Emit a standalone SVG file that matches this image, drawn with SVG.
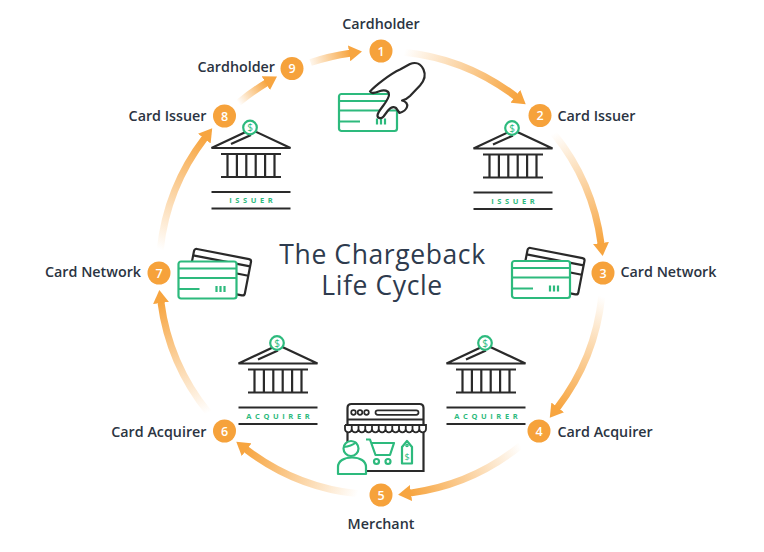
<svg xmlns="http://www.w3.org/2000/svg" xmlns:xlink="http://www.w3.org/1999/xlink" width="764" height="552" viewBox="0 0 764 552">
<style>
.lbl{font-family:"Open Sans","Liberation Sans",sans-serif;font-weight:600;font-size:14.3px;fill:#2B3442}
.num{font-family:"Open Sans","Liberation Sans",sans-serif;font-weight:600;font-size:12.5px;fill:#fff;text-anchor:middle}
.badge{fill:#F6A23B}
.title{font-family:"Open Sans","Liberation Sans",sans-serif;font-weight:400;font-size:26.5px;letter-spacing:0.6px;fill:#2E3B4E;text-anchor:middle}
.ln{fill:none;stroke:#2A2A2A;stroke-width:2.2}
.lnw{fill:#fff;stroke:#2A2A2A;stroke-width:2.2;stroke-linejoin:round}
.g{fill:none;stroke:#2DBA7D;stroke-width:2.2}
.gw{fill:#fff;stroke:#2DBA7D;stroke-width:2.2;stroke-linejoin:round}
.gt{font-family:"Open Sans","Liberation Sans",sans-serif;font-weight:700;font-size:7.5px;fill:#2DBA7D;text-anchor:middle;letter-spacing:3.6px}
.dol{font-family:"Open Sans","Liberation Sans",sans-serif;font-weight:400;font-size:10px;fill:#2DBA7D;text-anchor:middle}
.arc{fill:none;stroke-width:7;marker-end:url(#ah)}
</style>
<defs>
<marker id="ah" markerUnits="userSpaceOnUse" markerWidth="16" markerHeight="16" viewBox="0 0 16 16" refX="1" refY="8" orient="auto">
<path d="M0,0 L13,8 L0,16 Z" fill="#F7A540"/>
</marker>
<linearGradient id="gA" gradientUnits="userSpaceOnUse" x1="404.2" y1="52.2" x2="516.2" y2="96.9"><stop offset="0" stop-color="#F7A540" stop-opacity="0"/><stop offset="1" stop-color="#F7A540"/></linearGradient>
<linearGradient id="gB" gradientUnits="userSpaceOnUse" x1="553.5" y1="133.3" x2="601.1" y2="244"><stop offset="0" stop-color="#F7A540" stop-opacity="0"/><stop offset="1" stop-color="#F7A540"/></linearGradient>
<linearGradient id="gC" gradientUnits="userSpaceOnUse" x1="601.8" y1="296.2" x2="557.1" y2="408.2"><stop offset="0" stop-color="#F7A540" stop-opacity="0"/><stop offset="1" stop-color="#F7A540"/></linearGradient>
<linearGradient id="gD" gradientUnits="userSpaceOnUse" x1="520.7" y1="445.5" x2="410" y2="493.1"><stop offset="0" stop-color="#F7A540" stop-opacity="0"/><stop offset="1" stop-color="#F7A540"/></linearGradient>
<linearGradient id="gE" gradientUnits="userSpaceOnUse" x1="357.8" y1="493.8" x2="245.8" y2="449.1"><stop offset="0" stop-color="#F7A540" stop-opacity="0"/><stop offset="1" stop-color="#F7A540"/></linearGradient>
<linearGradient id="gF" gradientUnits="userSpaceOnUse" x1="208.5" y1="412.7" x2="160.9" y2="302"><stop offset="0" stop-color="#F7A540" stop-opacity="0"/><stop offset="1" stop-color="#F7A540"/></linearGradient>
<linearGradient id="gG" gradientUnits="userSpaceOnUse" x1="160.2" y1="249.8" x2="204.9" y2="137.8"><stop offset="0" stop-color="#F7A540" stop-opacity="0"/><stop offset="1" stop-color="#F7A540"/></linearGradient>
<linearGradient id="gH" gradientUnits="userSpaceOnUse" x1="238.3" y1="102.9" x2="266.7" y2="82.7"><stop offset="0" stop-color="#F7A540" stop-opacity="0"/><stop offset="1" stop-color="#F7A540"/></linearGradient>
<linearGradient id="gI" gradientUnits="userSpaceOnUse" x1="310.6" y1="62.5" x2="350.1" y2="53.2"><stop offset="0" stop-color="#F7A540" stop-opacity="0.1"/><stop offset="1" stop-color="#F7A540"/></linearGradient>
<g id="bank">
<path class="ln" d="M-38.5,20.5 L1,2 L40.5,20.5 Z"/>
<path class="ln" d="M-19,16.5 L1,7.5"/>
<path class="ln" d="M-29,26.5 H31 M-29,49.5 H31 M-22.5,26.5 V49.5 M-13.1,26.5 V49.5 M-3.7,26.5 V49.5 M5.7,26.5 V49.5 M15.1,26.5 V49.5 M24.5,26.5 V49.5 M-38.5,64.5 H40.5 M-38.5,81 H40.5"/>
<circle r="6.8" class="gw"/>
<text class="dol" y="3.6">$</text>
</g>
<g id="cardF">
<rect x="0" y="0" width="58" height="37" rx="2.5" class="gw"/>
<path class="g" d="M0,7 H58 M0,16.5 H58 M0,27.5 H21 M38,24.5 V30.5 M42,24.5 V30.5 M46,24.5 V30.5"/>
</g>
<g id="cardB">
<rect x="0" y="0" width="58" height="37" rx="2.5" class="lnw"/>
<path class="ln" d="M0,7 H58 M0,16.5 H58"/>
</g>
</defs>
<rect width="764" height="552" fill="#fff"/>

<g id="connectors">
<path class="arc" stroke="url(#gA)" d="M404.2,52.2 A222,222 0 0 1 516.2,96.9"/>
<path class="arc" stroke="url(#gB)" d="M553.5,133.3 A222,222 0 0 1 601.1,244"/>
<path class="arc" stroke="url(#gC)" d="M601.8,296.2 A222,222 0 0 1 557.1,408.2"/>
<path class="arc" stroke="url(#gD)" d="M520.7,445.5 A222,222 0 0 1 410,493.1"/>
<path class="arc" stroke="url(#gE)" d="M357.8,493.8 A222,222 0 0 1 245.8,449.1"/>
<path class="arc" stroke="url(#gF)" d="M208.5,412.7 A222,222 0 0 1 160.9,302"/>
<path class="arc" stroke="url(#gG)" d="M160.2,249.8 A222,222 0 0 1 204.9,137.8"/>
<path class="arc" stroke="url(#gH)" d="M238.3,102.9 A222,222 0 0 1 266.7,82.7"/>
<path class="arc" stroke="url(#gI)" d="M310.6,62.5 A222,222 0 0 1 350.1,53.2"/>
</g>

<g id="title">
<text class="title" x="382.5" y="264">The Chargeback</text>
<text class="title" x="382" y="295">Life Cycle</text>
</g>

<g id="step-1"><circle class="badge" cx="381" cy="51" r="11.5"/><text class="num" x="381" y="55.5">1</text><text class="lbl" x="381" y="28.5" text-anchor="middle">Cardholder</text></g>
<g id="step-2"><circle class="badge" cx="540" cy="115.5" r="11.5"/><text class="num" x="540" y="120">2</text><text class="lbl" x="557.5" y="120.5">Card Issuer</text></g>
<g id="step-3"><circle class="badge" cx="603" cy="273" r="11.5"/><text class="num" x="603" y="277.5">3</text><text class="lbl" x="620.5" y="277">Card Network</text></g>
<g id="step-4"><circle class="badge" cx="539" cy="431" r="11.5"/><text class="num" x="539" y="435.5">4</text><text class="lbl" x="557.5" y="436.5">Card Acquirer</text></g>
<g id="step-5"><circle class="badge" cx="381" cy="495" r="11.5"/><text class="num" x="381" y="499.5">5</text><text class="lbl" x="381" y="528.5" text-anchor="middle">Merchant</text></g>
<g id="step-6"><circle class="badge" cx="224.5" cy="431" r="11.5"/><text class="num" x="224.5" y="435.5">6</text><text class="lbl" x="206.5" y="436.5" text-anchor="end">Card Acquirer</text></g>
<g id="step-7"><circle class="badge" cx="159" cy="273" r="11.5"/><text class="num" x="159" y="277.5">7</text><text class="lbl" x="141" y="277" text-anchor="end">Card Network</text></g>
<g id="step-8"><circle class="badge" cx="224.5" cy="116" r="11.5"/><text class="num" x="224.5" y="120.5">8</text><text class="lbl" x="206.5" y="120.5" text-anchor="end">Card Issuer</text></g>
<g id="step-9"><circle class="badge" cx="292" cy="68.5" r="11.5"/><text class="num" x="292" y="73">9</text><text class="lbl" x="275" y="72" text-anchor="end">Cardholder</text></g>

<g id="icon-cardholder">
<use xlink:href="#cardF" href="#cardF" x="339" y="94"/>
<path class="lnw" d="M370,91.5 C375,86 390,74 400,69.5 L410,64 C416,61.5 421,64 423.5,69.5 C426,75 424,81 420,85.5 L410,96 C407,99 404,100 402,100.5 C406,101.5 408,104 407,107 C406,110 403,112 399.5,113 L396,108 C393,106 390,108 388,110.5 L383.5,116.5 C381.5,119 377.5,118.5 377.5,115.5 C377.5,113 380,110 383,106 C386,102 389.5,97 389,94 C388.5,90.5 384,89.5 380,91 C376,92.5 372,94.5 370,91.5 Z"/>
</g>

<g id="icon-issuer-right">
<use xlink:href="#bank" href="#bank" x="512" y="128"/>
<text class="gt" x="514.8" y="203.5">ISSUER</text>
</g>
<g id="icon-issuer-left">
<use xlink:href="#bank" href="#bank" x="250" y="127.5"/>
<text class="gt" x="252.8" y="203">ISSUER</text>
</g>
<g id="icon-acquirer-left">
<use xlink:href="#bank" href="#bank" x="277" y="343"/>
<text class="gt" x="279.8" y="419">ACQUIRER</text>
</g>
<g id="icon-acquirer-right">
<use xlink:href="#bank" href="#bank" x="485" y="343"/>
<text class="gt" x="487.8" y="419">ACQUIRER</text>
</g>

<g id="icon-network-right">
<use xlink:href="#cardB" href="#cardB" transform="translate(528,247.5) rotate(11)"/>
<use xlink:href="#cardF" href="#cardF" x="512" y="261"/>
</g>
<g id="icon-network-left">
<use xlink:href="#cardB" href="#cardB" transform="translate(194.5,248.5) rotate(11)"/>
<use xlink:href="#cardF" href="#cardF" x="178.5" y="261.5"/>
</g>

<g id="icon-merchant">
<path class="ln" d="M347.5,425 V408 Q347.5,404 351.5,404 H419.5 Q423.5,404 423.5,408 V425 M347.5,419.5 H423.5"/>
<circle class="ln" cx="353.5" cy="412.5" r="2.3" style="stroke-width:1.7"/>
<circle class="ln" cx="360" cy="412.5" r="2.3" style="stroke-width:1.7"/>
<circle class="ln" cx="366.5" cy="412.5" r="2.3" style="stroke-width:1.7"/>
<rect class="ln" x="375.5" y="410.3" width="43" height="4.6" rx="2.3" style="stroke-width:1.7"/>
<path class="ln" style="stroke-width:1.8" d="M345,425 H426 V429 M345,425 V429 a3.375,3.375 0 0 0 6.75,0 a3.375,3.375 0 0 0 6.75,0 a3.375,3.375 0 0 0 6.75,0 a3.375,3.375 0 0 0 6.75,0 a3.375,3.375 0 0 0 6.75,0 a3.375,3.375 0 0 0 6.75,0 a3.375,3.375 0 0 0 6.75,0 a3.375,3.375 0 0 0 6.75,0 a3.375,3.375 0 0 0 6.75,0 a3.375,3.375 0 0 0 6.75,0 a3.375,3.375 0 0 0 6.75,0 a3.375,3.375 0 0 0 6.75,0 M351.75,425 V429 M358.5,425 V429 M365.25,425 V429 M372,425 V429 M378.75,425 V429 M385.5,425 V429 M392.25,425 V429 M399,425 V429 M405.75,425 V429 M412.5,425 V429 M419.25,425 V429"/>
<path class="ln" d="M423.5,432.5 V471 H366 M347.5,432.5 V442"/>
<path class="gw" d="M338,474 V467 C338,461 344,457.5 352,457.5 C360,457.5 366,461 366,467 V474 Z"/>
<circle class="gw" cx="351" cy="448.5" r="7.5"/>
<path class="g" d="M343.6,447 Q351,446.5 356.5,442"/>
<path class="g" stroke-linejoin="round" d="M366,439.5 H370 L375.5,455 H390 L394,443 H371.5"/>
<circle class="g" cx="376.5" cy="461.5" r="2.5"/>
<circle class="g" cx="388" cy="461.5" r="2.5"/>
<path class="g" stroke-linejoin="round" d="M402,447 L407,441 L412,447 V463.5 H402 Z"/>
<circle class="g" cx="407" cy="445.5" r="1.1" style="stroke-width:1.4"/>
<text class="dol" x="407" y="459.5" style="font-size:9px">$</text>
</g>
</svg>
